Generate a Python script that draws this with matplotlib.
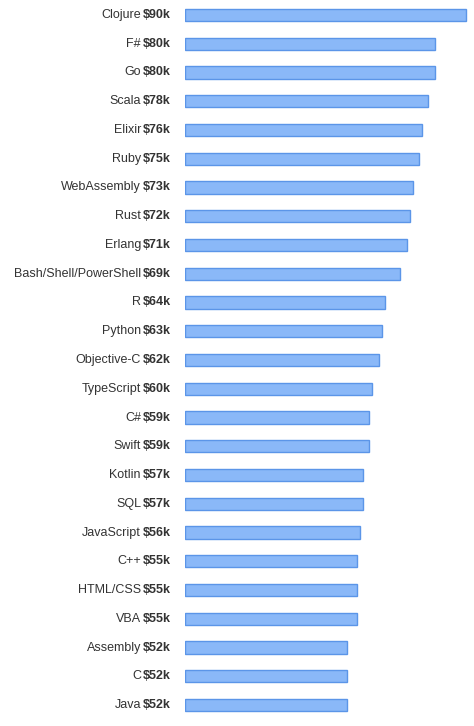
import matplotlib
matplotlib.use("Agg")
from matplotlib import pyplot as plt
from matplotlib.transforms import blended_transform_factory

languages = ["Clojure", "F#", "Go", "Scala", "Elixir", "Ruby", "WebAssembly", "Rust",
             "Erlang", "Bash/Shell/PowerShell", "R", "Python", "Objective-C", "TypeScript",
             "C#", "Swift", "Kotlin", "SQL", "JavaScript", "C++", "HTML/CSS", "VBA",
             "Assembly", "C", "Java"]
salaries = [90, 80, 80, 78, 76, 75, 73, 72, 71, 69, 64, 63, 62, 60, 59, 59, 57, 57,
            56, 55, 55, 55, 52, 52, 52]

W, H = 474, 726
fig = plt.figure(figsize=(W / 100, H / 100), dpi=100)
top, bottom = 0.6, 719.4
ax = fig.add_axes([185 / W, 1 - bottom / H, 285 / W, (bottom - top) / H])

ypos = list(range(len(languages)))
ax.barh(ypos, salaries, height=0.42, color="#8ab8f8", edgecolor="#5b95e8", linewidth=1)
ax.set_xlim(0, 91.3)
ax.set_ylim(len(languages) - 0.5, -0.5)
ax.axis("off")

tr = blended_transform_factory(fig.transFigure, ax.transData)
for y, name, val in zip(ypos, languages, salaries):
    ax.text(141 / W, y, name, transform=tr, ha="right", va="center",
            fontsize=9, color="#333333", family="Liberation Sans")
    ax.text(143 / W, y, "${}k".format(val), transform=tr, ha="left", va="center",
            fontsize=9, fontweight="bold", color="#333333", family="Liberation Sans")

fig.savefig("out.png", dpi=100)
